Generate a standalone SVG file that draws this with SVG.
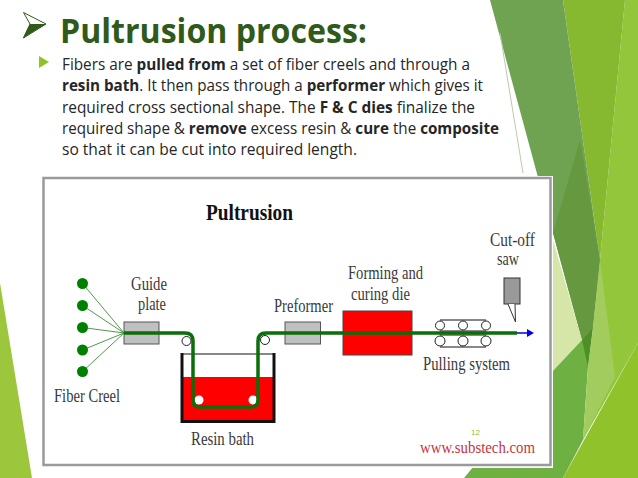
<svg xmlns="http://www.w3.org/2000/svg" width="638" height="478" viewBox="0 0 638 478">
<style>
.b{font-family:"Open Sans","Noto Sans",sans-serif;font-size:15.400px;fill:#262626}
.b tspan{font-weight:700}
.s{font-family:"Liberation Serif",serif;font-size:18.500px;fill:#3a3a3a}
.r{fill:#c0c0c0;stroke:#555;stroke-width:1}
.w{fill:#fff;stroke:#222;stroke-width:1}
.g{fill:none;stroke:#0a6e0a;stroke-width:3.500}
.t{stroke:#4f9a4f;stroke-width:1;fill:none}
.c{fill:#008000}
</style>
<g id="background">
<rect width="638" height="478" fill="#fff"/>
<polygon points="0,283 32,478 0,478" fill="#9cc63c"/>
<polygon points="625,0 638,0 638,343 583,440 600,260" fill="#93c63a"/>
<polygon points="563,0 625,0 600,260" fill="#86b92f"/>
<polygon points="490,0 563,0 600,260 593,327 582,340" fill="#6fa352"/>
<polygon points="580,140 600,260 593,327 582,340 553,233" fill="#66983f"/>
<polygon points="551,233 582,340 551,373" fill="#d5e6a8"/>
<polygon points="593,327 588,367 583,440 563,478 464,478 551,373 582,340" fill="#6fb043"/>
<polygon points="593,327 582,340 588,367" fill="#4f8f2a"/>
<polygon points="600,260 615,377 583,440 588,367 593,327" fill="#a2cd5e"/>
<polygon points="638,343 563,478 638,478" fill="#90c22c"/>
<line x1="500" y1="33" x2="523" y2="173" stroke="#b9c9b0" stroke-width="1"/>
</g>
<g id="title">
<polygon points="23.500,12.500 46,24 23.500,38 30,24" fill="#fff" stroke="#2f5a1a" stroke-width="1"/>
<polygon points="23,38 46,24 30,24" fill="#2f5a1a"/>
<text x="60" y="43" font-family="Open Sans,Noto Sans,sans-serif" font-size="34" font-weight="700" fill="#2f5a1a" textLength="307" lengthAdjust="spacingAndGlyphs">Pultrusion process:</text>
</g>
<g id="body">
<polygon points="39,56 49,62 39,68" fill="#90c226"/>
<text class="b" x="62" y="70" textLength="408" lengthAdjust="spacingAndGlyphs">Fibers are <tspan>pulled from</tspan> a set of fiber creels and through a</text>
<text class="b" x="62" y="91" textLength="421" lengthAdjust="spacingAndGlyphs"><tspan>resin bath</tspan>. It then pass through a <tspan>performer</tspan> which gives it</text>
<text class="b" x="62" y="113" textLength="413" lengthAdjust="spacingAndGlyphs">required cross sectional shape. The <tspan>F &amp; C dies</tspan> finalize the</text>
<text class="b" x="62" y="134" textLength="437" lengthAdjust="spacingAndGlyphs">required shape &amp; <tspan>remove</tspan> excess resin &amp; <tspan>cure</tspan> the <tspan>composite</tspan></text>
<text class="b" x="62" y="155" textLength="295" lengthAdjust="spacingAndGlyphs">so that it can be cut into required length.</text>
</g>
<g id="panel">
<rect x="41" y="176" width="512" height="292" fill="#fff"/>
<rect x="43.500" y="178" width="507" height="287" fill="#fff" stroke="#9a9a9a" stroke-width="2.500"/>
<text x="206" y="220" font-family="Liberation Serif,serif" font-size="23" font-weight="700" fill="#111" textLength="87" lengthAdjust="spacingAndGlyphs">Pultrusion</text>
</g>
<g id="connectors">
<path class="t" d="M82.500 283.500L124 333M82.500 305.500L124 333M82.500 327.500L124 333M82.500 350L124 333M82.500 371.500L124 333"/>
</g>
<g id="fiber-creel">
<circle class="c" cx="82.500" cy="283.500" r="5.500"/><circle class="c" cx="82.500" cy="305.500" r="5.500"/><circle class="c" cx="82.500" cy="327.500" r="5.500"/><circle class="c" cx="82.500" cy="350" r="5.500"/><circle class="c" cx="82.500" cy="371.500" r="5.500"/>
<text class="s" x="54" y="402" textLength="66" lengthAdjust="spacingAndGlyphs">Fiber Creel</text>
</g>
<g id="guide-plate">
<rect class="r" x="124" y="322" width="35" height="22"/>
<text class="s" x="131" y="290" textLength="36" lengthAdjust="spacingAndGlyphs">Guide</text>
<text class="s" x="138" y="310" textLength="28" lengthAdjust="spacingAndGlyphs">plate</text>
</g>
<g id="resin-bath">
<rect x="181" y="377" width="94" height="44" fill="#f00"/>
<path d="M182 354H274" stroke="#111" stroke-width="1" fill="none"/>
<path d="M182 353V421.500H274V353" stroke="#111" stroke-width="3" fill="none"/>
<circle class="w" cx="186.500" cy="341" r="4.500"/><circle class="w" cx="265" cy="340" r="4.500"/>
<circle cx="199" cy="400" r="4.500" fill="#fff"/><circle cx="253" cy="400" r="4.500" fill="#fff"/>
<text class="s" x="191" y="445" textLength="63" lengthAdjust="spacingAndGlyphs">Resin bath</text>
</g>
<g id="preformer">
<rect class="r" x="285" y="322" width="35.500" height="22"/>
<text class="s" x="274" y="312" textLength="59" lengthAdjust="spacingAndGlyphs">Preformer</text>
</g>
<g id="die">
<rect x="343" y="311" width="69" height="44" fill="#f00" stroke="#444" stroke-width="1"/>
<text class="s" x="348" y="279" textLength="75" lengthAdjust="spacingAndGlyphs">Forming and</text>
<text class="s" x="351" y="300" textLength="59" lengthAdjust="spacingAndGlyphs">curing die</text>
</g>
<g id="pulling-system">
<path d="M440 320H486M440 331H486M440 335H486M440 347H486" stroke="#111" stroke-width="1" fill="none"/>
<circle class="w" cx="440" cy="325.500" r="4.500"/><circle class="w" cx="463" cy="325.500" r="4.500"/><circle class="w" cx="486" cy="325.500" r="4.500"/>
<circle class="w" cx="440" cy="341" r="5"/><circle class="w" cx="463" cy="341" r="5"/><circle class="w" cx="486" cy="341" r="5"/>
<text class="s" x="423" y="370" textLength="87" lengthAdjust="spacingAndGlyphs">Pulling system</text>
</g>
<g id="saw">
<rect x="504" y="278" width="16" height="26" fill="#999" stroke="#333" stroke-width="1"/>
<path d="M508 304L515.500 322L515 304" fill="#fff" stroke="#333" stroke-width="1"/>
<text class="s" x="490" y="246" textLength="45" lengthAdjust="spacingAndGlyphs">Cut-off</text>
<text class="s" x="497" y="265" textLength="22" lengthAdjust="spacingAndGlyphs">saw</text>
</g>
<g id="fiber-line">
<path class="g" d="M124 333H185Q193 333 193 341V400Q193 407 200 407H251Q258 407 258 400V341Q258 333 266 333H517"/>
<path d="M517 333H529" stroke="#0000e0" stroke-width="1.500"/>
<polygon points="527,329 534,333 527,337" fill="#0000e0"/>
</g>
<g id="footer">
<text x="471" y="435" font-family="Liberation Sans,sans-serif" font-size="8" fill="#90c226">12</text>
<text x="420" y="453" font-family="Liberation Serif,serif" font-size="17.500" fill="#c8323c" textLength="115" lengthAdjust="spacingAndGlyphs">www.substech.com</text>
</g>
</svg>
